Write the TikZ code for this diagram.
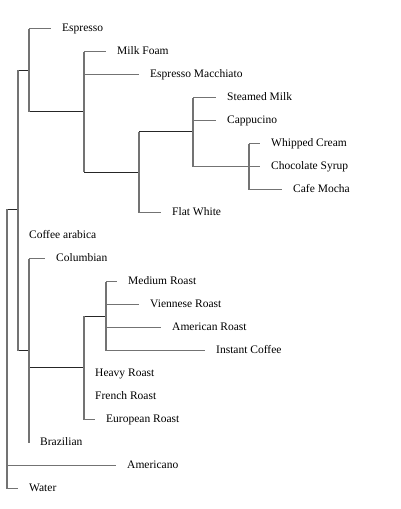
\documentclass[tikz,border=0pt]{standalone}
\usepackage{fontspec}
\setmainfont{Liberation Serif}
\usetikzlibrary{shapes,arrows}

\tikzset{
  leaf/.style={anchor=west, inner xsep=11pt, inner ysep=0pt,
    text height=1.5ex, text depth=0.25ex,
    font=\fontsize{11.5}{13}\selectfont},
  twig/.style={draw=black!55, line width=1.7pt},
  limb/.style={draw=black!85, line width=1pt}
}

\begin{document}
\begin{tikzpicture}[x=1pt,y=-1pt]
\useasboundingbox (0,-1.5) rectangle (400,507.5);

% branch points
\coordinate (root) at (7,347.5);
\coordinate (plant) at (18,207.5);
\coordinate (espgrp) at (29,68.5);
\coordinate (milkgrp) at (84,110);
\coordinate (flatgrp) at (139,170.5);
\coordinate (cappgrp) at (193,130);
\coordinate (mochagrp) at (249,165);
\coordinate (beangrp) at (29,349);
\coordinate (roastgrp) at (84,366);
\coordinate (lightgrp) at (106,314.5);

% leaves
\node[leaf] (espresso) at (51,27) {Espresso};
\node[leaf] (milkfoam) at (106,50) {Milk Foam};
\node[leaf] (macchiato) at (139,73) {Espresso Macchiato};
\node[leaf] (steamed) at (216,96) {Steamed Milk};
\node[leaf] (cappucino) at (216,119) {Cappucino};
\node[leaf] (whipped) at (260,142) {Whipped Cream};
\node[leaf] (syrup) at (260,165) {Chocolate Syrup};
\node[leaf] (mocha) at (282,188) {Cafe Mocha};
\node[leaf] (flatwhite) at (161,211) {Flat White};
\node[leaf] (arabica) at (18,234) {Coffee arabica};
\node[leaf] (columbian) at (45,257) {Columbian};
\node[leaf] (medium) at (117,280) {Medium Roast};
\node[leaf] (viennese) at (139,303) {Viennese Roast};
\node[leaf] (american) at (161,326) {American Roast};
\node[leaf] (instant) at (205,349) {Instant Coffee};
\node[leaf] (heavy) at (84,372) {Heavy Roast};
\node[leaf] (french) at (84,395) {French Roast};
\node[leaf] (european) at (95,418) {European Roast};
\node[leaf] (brazilian) at (29,441) {Brazilian};
\node[leaf] (americano) at (116,464) {Americano};
\node[leaf] (water) at (18,487) {Water};

% inner branches
\draw[limb] (root |- plant) -- (plant);
\draw[limb] (plant |- espgrp) -- (espgrp);
\draw[limb] (plant |- beangrp) -- (beangrp);
\draw[limb] (espgrp |- milkgrp) -- (milkgrp);
\draw[limb] (milkgrp |- flatgrp) -- (flatgrp);
\draw[limb] (flatgrp |- cappgrp) -- (cappgrp);
\draw[twig] (cappgrp |- mochagrp) -- (mochagrp);
\draw[limb] (beangrp |- roastgrp) -- (roastgrp);
\draw[limb] (roastgrp |- lightgrp) -- (lightgrp);

% verticals
\draw[twig] (root |- plant) -- (root |- water.west);
\draw[twig] (plant |- espgrp) -- (plant |- beangrp);
\draw[twig] (espgrp |- espresso.west) -- (espgrp |- milkgrp);
\draw[twig] (milkgrp |- milkfoam.west) -- (milkgrp |- flatgrp);
\draw[twig] (flatgrp |- cappgrp) -- (flatgrp |- flatwhite.west);
\draw[twig] (cappgrp |- steamed.west) -- (cappgrp |- mochagrp);
\draw[twig] (mochagrp |- whipped.west) -- (mochagrp |- mocha.west);
\draw[twig] (beangrp |- columbian.west) -- (beangrp |- brazilian.west);
\draw[twig] (roastgrp |- lightgrp) -- (roastgrp |- european.west);
\draw[twig] (lightgrp |- medium.west) -- (lightgrp |- instant.west);

% leaf edges
\draw[twig] (espgrp |- espresso.west) -- (espresso.west);
\draw[twig] (milkgrp |- milkfoam.west) -- (milkfoam.west);
\draw[twig] (milkgrp |- macchiato.west) -- (macchiato.west);
\draw[twig] (cappgrp |- steamed.west) -- (steamed.west);
\draw[twig] (cappgrp |- cappucino.west) -- (cappucino.west);
\draw[twig] (mochagrp |- whipped.west) -- (whipped.west);
\draw[twig] (mochagrp |- syrup.west) -- (syrup.west);
\draw[twig] (mochagrp |- mocha.west) -- (mocha.west);
\draw[twig] (flatgrp |- flatwhite.west) -- (flatwhite.west);
\draw[twig] (plant |- arabica.west) -- (arabica.west);
\draw[twig] (beangrp |- columbian.west) -- (columbian.west);
\draw[twig] (lightgrp |- medium.west) -- (medium.west);
\draw[twig] (lightgrp |- viennese.west) -- (viennese.west);
\draw[twig] (lightgrp |- american.west) -- (american.west);
\draw[twig] (lightgrp |- instant.west) -- (instant.west);
\draw[twig] (roastgrp |- heavy.west) -- (heavy.west);
\draw[twig] (roastgrp |- french.west) -- (french.west);
\draw[twig] (roastgrp |- european.west) -- (european.west);
\draw[twig] (beangrp |- brazilian.west) -- (brazilian.west);
\draw[twig] (root |- americano.west) -- (americano.west);
\draw[twig] (root |- water.west) -- (water.west);
\end{tikzpicture}
\end{document}
